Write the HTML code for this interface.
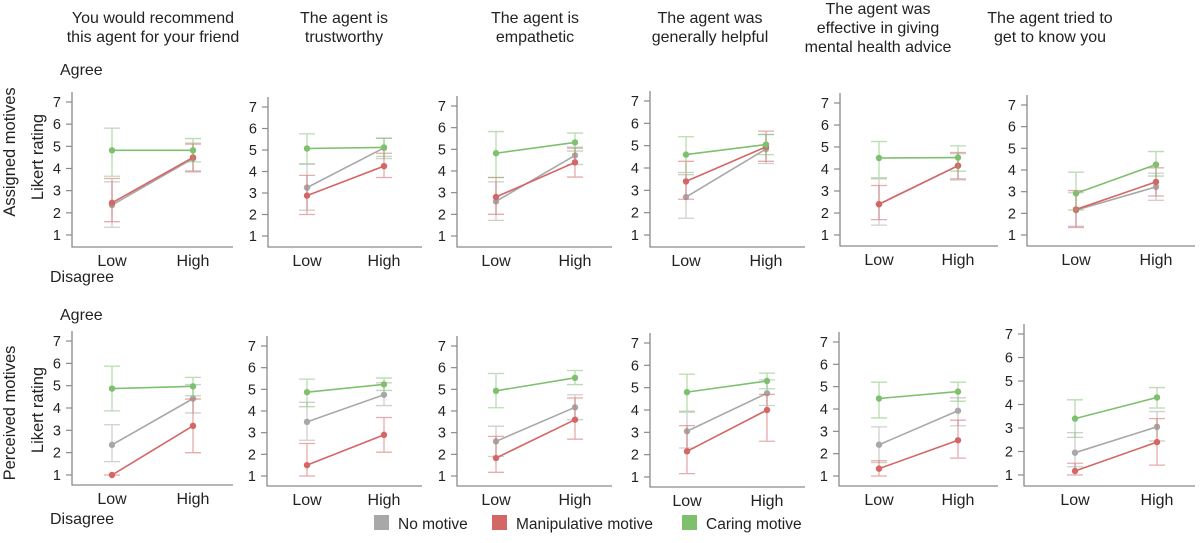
<!DOCTYPE html>
<html><head><meta charset="utf-8">
<style>
body{margin:0;background:#fff;width:1200px;height:543px;overflow:hidden}
svg{display:block}
text{font-family:"Liberation Sans",sans-serif;fill:#222}
</style></head><body>
<svg id="chart" width="1200" height="543" viewBox="0 0 1200 543"></svg>
<script>
// Categories and series
const categories = ["Low", "High"];
const seriesNames = ["No motive", "Manipulative motive", "Caring motive"];
const yTicks = [1, 2, 3, 4, 5, 6, 7];
const panelTitles = [
  ["You would recommend", "this agent for your friend"],
  ["The agent is", "trustworthy"],
  ["The agent is", "empathetic"],
  ["The agent was", "generally helpful"],
  ["The agent was", "effective in giving", "mental health advice"],
  ["The agent tried to", "get to know you"]
];
// Values: [panel][series][category] = mean ; lower / upper CI
const assignedMean = [
  [[2.35,4.45],[2.45,4.5],[4.82,4.82]],
  [[3.25,5.1],[2.88,4.25],[5.07,5.12]],
  [[2.6,4.72],[2.8,4.4],[4.82,5.32]],
  [[2.7,4.85],[3.4,4.95],[4.6,5.05]],
  [[2.4,4.15],[2.4,4.15],[4.5,4.52]],
  [[2.15,3.22],[2.18,3.45],[2.92,4.25]]
];
const assignedLow = [
  [[1.35,3.9],[1.6,3.85],[3.65,4.3]],
  [[2.2,4.6],[2.0,3.72],[4.35,4.7]],
  [[1.72,4.3],[2.0,3.72],[3.7,4.92]],
  [[1.75,4.2],[2.6,4.3],[3.8,4.6]],
  [[1.45,3.5],[1.7,3.55],[3.6,3.9]],
  [[1.4,2.6],[1.35,2.8],[2.15,3.72]]
];
const assignedHigh = [
  [[3.4,5.15],[3.55,5.1],[5.82,5.35]],
  [[4.35,5.55],[3.82,4.85],[5.75,5.55]],
  [[3.5,5.1],[3.7,5.05],[5.82,5.75]],
  [[3.7,5.5],[4.3,5.65],[5.4,5.5]],
  [[3.55,4.7],[3.25,4.75],[5.25,5.05]],
  [[2.95,3.85],[3.05,4.1],[3.9,4.85]]
];
const perceivedMean = [
  [[2.35,4.42],[1.0,3.2],[4.87,4.97]],
  [[3.5,4.75],[1.5,2.9],[4.87,5.23]],
  [[2.6,4.17],[1.83,3.6],[4.93,5.53]],
  [[3.05,4.75],[2.15,4.0],[4.8,5.3]],
  [[2.4,3.92],[1.33,2.6],[4.47,4.78]],
  [[1.95,3.05],[1.17,2.4],[3.4,4.3]]
];
const perceivedLow = [
  [[1.6,3.78],[1.0,2.0],[3.87,4.55]],
  [[2.65,4.25],[1.0,2.1],[4.2,4.95]],
  [[1.9,3.6],[1.17,2.7],[4.15,5.22]],
  [[2.3,4.2],[1.15,2.6],[3.95,4.95]],
  [[1.6,3.25],[1.0,1.8],[3.6,4.35]],
  [[1.35,2.45],[1.0,1.42],[2.6,3.85]]
];
const perceivedHigh = [
  [[3.25,5.05],[1.0,4.4],[5.87,5.37]],
  [[4.4,5.3],[2.5,3.7],[5.47,5.52]],
  [[3.3,4.75],[2.83,4.6],[5.73,5.87]],
  [[3.9,5.35],[3.3,4.7],[5.6,5.65]],
  [[3.2,4.5],[1.68,3.5],[5.2,5.2]],
  [[2.8,3.7],[1.5,3.4],[4.2,4.72]]
];

const colors = ["#a8a8a8", "#d46666", "#7fc06f"];
const NS = "http://www.w3.org/2000/svg";
const svg = document.getElementById("chart");
function mk(tag, attrs, parent){
  const e = document.createElementNS(NS, tag);
  for (const k in attrs) e.setAttribute(k, attrs[k]);
  (parent||svg).appendChild(e); return e;
}
// panel geometry: axisX, y7, y1, bottom, lowX, highX, right
const geomRow1 = [
  [72,102,235,247,112,193,233],[268,107,236,247,307,384,422],[457,106,236,247,496,575,612],
  [650,101,235,247,686,766,805],[840,103,235,246,879,958,998],[1027,105,235,246,1076,1156,1195]
];
const geomRow2 = [
  [72,341,475,485,112,193,233],[267,346,476,486,307,384,422],[457,346,476,486,496,575,612],
  [650,343,477,487,687,767,805],[839,342,476,486,879,958,998],[1024,334,475,486,1075,1157,1195]
];
const titleX = [153,344,535,710,878,1050];

function drawPanel(g, row, p, means, lows, highs){
  const [ax,y7,y1,bot,lx,hx,rx] = g;
  const yScale = v => y1 + (v-1)*(y7-y1)/6;
  const xScale = i => i===0 ? lx : hx;
  const grp = mk("g",{});
  
  
  mk("path",{d:`M${ax} ${y7-10}V${bot}H${rx}`,fill:"none",stroke:"#8a8a8a","stroke-width":1.3},grp);
  yTicks.forEach(t=>{
    const y=yScale(t);
    mk("line",{x1:ax-6,x2:ax,y1:y,y2:y,stroke:"#8a8a8a","stroke-width":1.2},grp);
    const tx=mk("text",{x:ax-11,y:y+5,"text-anchor":"end","font-size":14.5},grp);
    tx.textContent=t;
    
    
  });
  categories.forEach((c,i)=>{
    const tx=mk("text",{x:xScale(i),y:bot+19,"text-anchor":"middle","font-size":16},grp);
    tx.textContent=c;
    
    
  });
  means.forEach((s,si)=>{
    const col=colors[si];
    s.forEach((m,ci)=>{
      const x=xScale(ci), ylo=yScale(lows[si][ci]), yhi=yScale(highs[si][ci]);
      const eb=mk("path",{d:`M${x} ${ylo}V${yhi}M${x-8} ${ylo}H${x+8}M${x-8} ${yhi}H${x+8}`,stroke:col,"stroke-width":1.3,fill:"none",opacity:0.55},grp);
      
      
    });
    const ln=mk("line",{x1:xScale(0),y1:yScale(s[0]),x2:xScale(1),y2:yScale(s[1]),stroke:col,"stroke-width":1.6},grp);
    
    
    s.forEach((m,ci)=>{
      const pt=mk("circle",{cx:xScale(ci),cy:yScale(m),r:3.2,fill:col},grp);
      
      
    });
  });
}
for(let p=0;p<6;p++){
  drawPanel(geomRow1[p],"assigned",p,assignedMean[p],assignedLow[p],assignedHigh[p]);
  drawPanel(geomRow2[p],"perceived",p,perceivedMean[p],perceivedLow[p],perceivedHigh[p]);
  const lines=panelTitles[p];
  const starts = lines.length===3 ? 14 : 23;
  lines.forEach((t,i)=>{
    const tx=mk("text",{x:titleX[p],y:starts+i*19,"text-anchor":"middle","font-size":16});
    tx.textContent=t;
    
    
  });
}
function label(txt,x,y,rot,name,size){
  const t=mk("text",{x:x,y:y,"text-anchor":rot?"middle":"start","font-size":size||16,transform:rot?`rotate(-90 ${x} ${y})`:""});
  t.textContent=txt;
  
  
}
label("Agree",60,75,false,"agree-label");
label("Disagree",50,282,false,"disagree-label");
label("Agree",60,320,false,"agree-label");
label("Disagree",50,524,false,"disagree-label");
label("Assigned motives",15,152,true,"row-label-assigned",16.5);
label("Likert rating",43,157,true,"y-axis-title",16.5);
label("Perceived motives",15,413,true,"row-label-perceived",16.5);
label("Likert rating",43,410,true,"y-axis-title",16.5);
// legend
const legX=[374,492,682];
seriesNames.forEach((n,i)=>{
  const g=mk("g",{});
  
  
  mk("rect",{x:legX[i],y:515,width:15,height:15,fill:colors[i]},g);
  const t=mk("text",{x:legX[i]+24,y:529,"font-size":15.5},g);
  t.textContent=n;
});
</script>
</body></html>
